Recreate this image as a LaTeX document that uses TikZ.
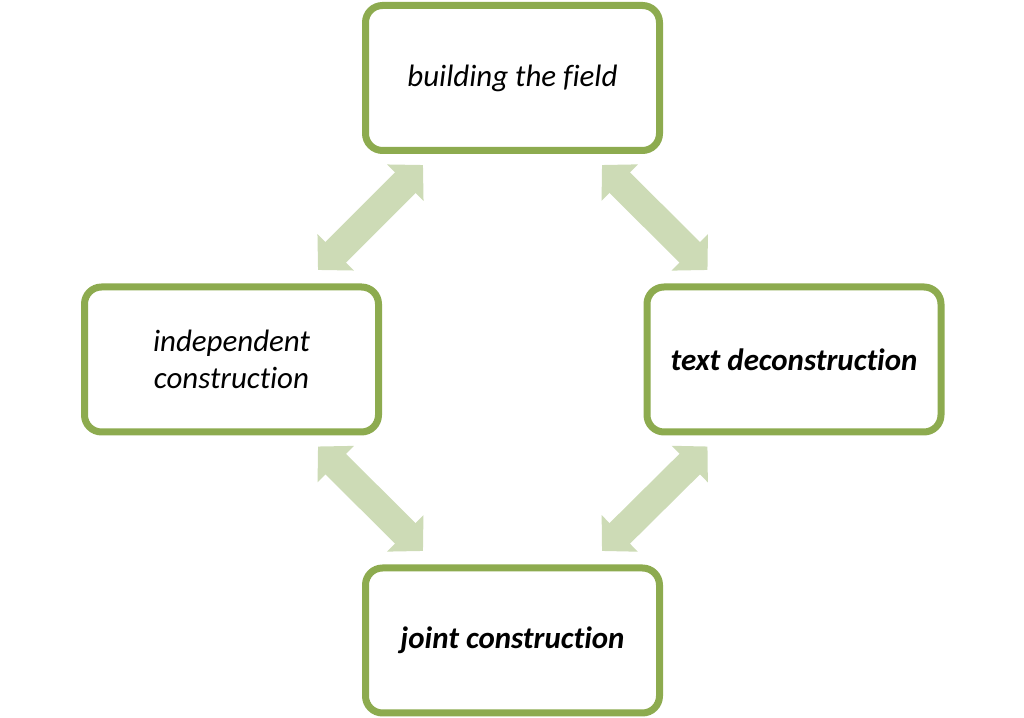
\documentclass[tikz,border=0pt]{standalone}
\usepackage{fontspec}
\setmainfont{Carlito}[Ligatures=NoCommon]
\usetikzlibrary{arrows.meta}
\definecolor{boxgreen}{HTML}{8DAB4F}
\definecolor{arrowgreen}{HTML}{CDDBB6}

\begin{document}
\begin{tikzpicture}[
  stage/.style={draw=boxgreen, line width=0.14cm, rounded corners=0.34cm, fill=white,
    minimum width=5.88cm, minimum height=2.9cm, align=center,
    font=\fontsize{17.6}{21}\selectfont\itshape},
  link/.style={draw=arrowgreen, line width=0.58cm,
    {Triangle[length=0.5cm,width=1cm]}-{Triangle[length=0.5cm,width=1cm]}}
]
\useasboundingbox (0,0) rectangle (20.48,-14.36);

\node[stage] (field) at (10.25,-1.56) {building the field};
\node[stage] (indep) at (4.63,-7.19) {independent\\construction};
\node[stage, font=\fontsize{17.6}{21}\selectfont\bfseries\itshape] (decon) at (15.88,-7.19) {text deconstruction};
\node[stage, font=\fontsize{17.6}{21}\selectfont\bfseries\itshape] (joint) at (10.25,-12.81) {joint construction};

\draw[link] ([shift={(1.22,-0.22)}]field.south west) -- ([shift={(-1.28,0.27)}]indep.north east);
\draw[link] ([shift={(-1.22,-0.22)}]field.south east) -- ([shift={(1.28,0.27)}]decon.north west);
\draw[link] ([shift={(-1.28,-0.22)}]indep.south east) -- ([shift={(1.22,0.27)}]joint.north west);
\draw[link] ([shift={(1.28,-0.22)}]decon.south west) -- ([shift={(-1.22,0.27)}]joint.north east);

\end{tikzpicture}
\end{document}
